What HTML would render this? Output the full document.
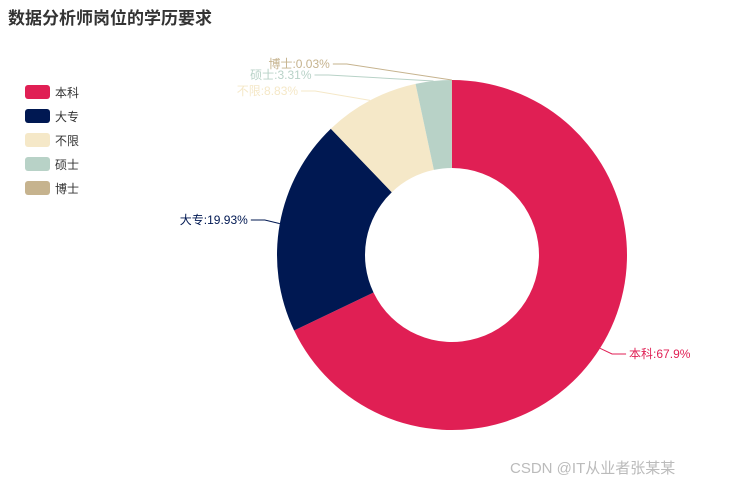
<!DOCTYPE html>
<html><head><meta charset="utf-8"><style>
body{margin:0;background:#fff;}
svg{display:block;font-family:"Liberation Sans","Noto Sans CJK SC",sans-serif;}
</style></head><body>
<svg id="chart" width="732" height="486" viewBox="0 0 732 486">
<text x="8" y="24" font-size="17" font-weight="bold" fill="#333">数据分析师岗位的学历要求</text>
<g id="legend"></g>
<g id="slices"></g>
<g id="labels"></g>
<text x="510" y="473" font-size="15" fill="#bbb">CSDN @IT从业者张某某</text>
</svg>
<script>
const categories = ["本科","大专","不限","硕士","博士"];
const values = [67.9, 19.93, 8.83, 3.31, 0.03];
const colors = ["#e01f54","#001852","#f5e8c8","#b8d2c7","#c6b38e"];
const NS="http://www.w3.org/2000/svg";
const cx=452, cy=255, R=175, r=87;
const total=values.reduce((a,b)=>a+b,0);
function pt(a,rad){return [cx+rad*Math.sin(a), cy-rad*Math.cos(a)];}
const sl=document.getElementById('slices'), lb=document.getElementById('labels'), lg=document.getElementById('legend');
// label positions (layout, text y in px) chosen per slice index
const labelY=[354,220,91,75,64];
let a0=0;
categories.forEach((c,i)=>{
  const a1=a0+values[i]/total*2*Math.PI;
  const p0=pt(a0,R),p1=pt(a1,R),q1=pt(a1,r),q0=pt(a0,r);
  const large=(a1-a0)>Math.PI?1:0;
  const path=document.createElementNS(NS,'path');
  path.setAttribute('d',`M${p0[0]},${p0[1]}A${R},${R} 0 ${large} 1 ${p1[0]},${p1[1]}L${q1[0]},${q1[1]}A${r},${r} 0 ${large} 0 ${q0[0]},${q0[1]}Z`);
  path.setAttribute('fill',colors[i]);
  
  
  sl.appendChild(path);
  // label
  const am=(a0+a1)/2, s=pt(am,R);
  const right=Math.sin(am)>=0;
  const ly=labelY[i];
  const ex=right? s[0]+12 : s[0]-(i>=2? 55+ (s[0]-cx<-50?0:50):15);
  const midX = right? ex : Math.min(ex, s[0]-15);
  const endX = right? midX+14 : midX-14;
  const line=document.createElementNS(NS,'polyline');
  line.setAttribute('points',`${s[0]},${s[1]} ${midX},${ly} ${endX},${ly}`);
  line.setAttribute('fill','none');
  line.setAttribute('stroke',colors[i]);
  
  
  lb.appendChild(line);
  const t=document.createElementNS(NS,'text');
  t.setAttribute('x', right? endX+3 : endX-3);
  t.setAttribute('y', ly+4);
  t.setAttribute('font-size','12');
  t.setAttribute('fill',colors[i]);
  t.setAttribute('text-anchor', right?'start':'end');
  t.textContent=c+':'+values[i]+'%';
  
  
  lb.appendChild(t);
  // legend
  const y=92+i*24;
  const rc=document.createElementNS(NS,'rect');
  rc.setAttribute('x',25);rc.setAttribute('y',y-7);rc.setAttribute('width',25);rc.setAttribute('height',14);rc.setAttribute('rx',3);
  rc.setAttribute('fill',colors[i]);
  
  
  lg.appendChild(rc);
  const lt=document.createElementNS(NS,'text');
  lt.setAttribute('x',55);lt.setAttribute('y',y+5);lt.setAttribute('font-size','12');lt.setAttribute('fill','#333');
  lt.textContent=c;
  
  
  lg.appendChild(lt);
  a0=a1;
});
</script>
</body></html>
